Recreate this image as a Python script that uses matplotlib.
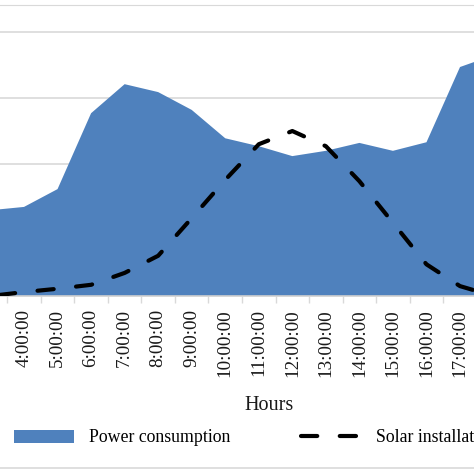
import numpy as np
import matplotlib
matplotlib.use("Agg")
import matplotlib.pyplot as plt
from matplotlib.patches import Patch
from matplotlib.lines import Line2D

plt.rcParams['font.family'] = ['Liberation Serif', 'DejaVu Serif']

# ----------------------------- DATA ----------------------------- #
hours = [3, 4, 5, 6, 7, 8, 9, 10, 11, 12, 13, 14, 15, 16, 17, 18]
hour_labels = [f"{h}:00:00" for h in hours]

# one gridline = 1 unit
power = [1.30, 1.35, 1.62, 2.77, 3.21, 3.09, 2.82, 2.39, 2.27, 2.12,
         2.20, 2.32, 2.20, 2.33, 3.47, 3.65]
solar = [0.00, 0.06, 0.11, 0.17, 0.35, 0.61, 1.18, 1.76, 2.30, 2.50,
         2.27, 1.74, 1.11, 0.48, 0.15, 0.00]

blue = '#4F81BD'
grid_c = '#D9D9D9'

# ----------------------------- PLOT ----------------------------- #
fig = plt.figure(figsize=(4.74, 4.74), dpi=100)
ax = fig.add_axes([0, 0.3755, 1, 0.614])

ax.fill_between(hours, 0, power, color=blue, lw=0, zorder=2)
ax.plot(hours, solar, color='black', lw=3, dashes=(3.9, 5.4),
        dash_capstyle='round', solid_capstyle='round', zorder=3)

ax.set_yticks([0, 1, 2, 3, 4])
ax.set_yticklabels([])
ax.tick_params(axis='y', length=0)
ax.grid(axis='y', color=grid_c, lw=1.2, zorder=0)

ax.set_xticks(hours)
ax.set_xticklabels(hour_labels, rotation=90, fontsize=13.8, color='#1a1a1a')
ax.set_xticks(np.array(hours) + 0.5, minor=True)
ax.tick_params(axis='x', which='major', length=0, pad=9.5)
ax.tick_params(axis='x', which='minor', length=5, width=1, color=grid_c, direction='out')

# limits last, set_xticks would widen them
ax.set_xlim(3.284, 17.417)
ax.set_ylim(0, 4.41)

for s in ['left', 'right']:
    ax.spines[s].set_visible(False)
ax.spines['bottom'].set_color('#D0D0D0')
ax.spines['top'].set_color(grid_c)
ax.spines['bottom'].set_linewidth(1.2)

fig.text(269 / 474, (474 - 406) / 474, 'Hours', ha='center', va='center',
         fontsize=14.5, color='#1a1a1a')

handles = [Patch(facecolor=blue, edgecolor='none'),
           Line2D([0], [0], color='black', lw=3, dashes=(3.9, 5.4),
                  dash_capstyle='round')]
fig.legend(handles, ['Power consumption', 'Solar installation'], ncol=2,
           loc='center left', bbox_to_anchor=(14 / 474, (474 - 438) / 474),
           frameon=False, fontsize=12.8, borderpad=0, borderaxespad=0,
           handlelength=3.37, handletextpad=0.84, columnspacing=4.0)

# bottom border of the chart area
fig.add_artist(Line2D([0, 1], [(474 - 468) / 474] * 2, color=grid_c, lw=1.2,
                      transform=fig.transFigure))

fig.savefig('out.png', dpi=100)
